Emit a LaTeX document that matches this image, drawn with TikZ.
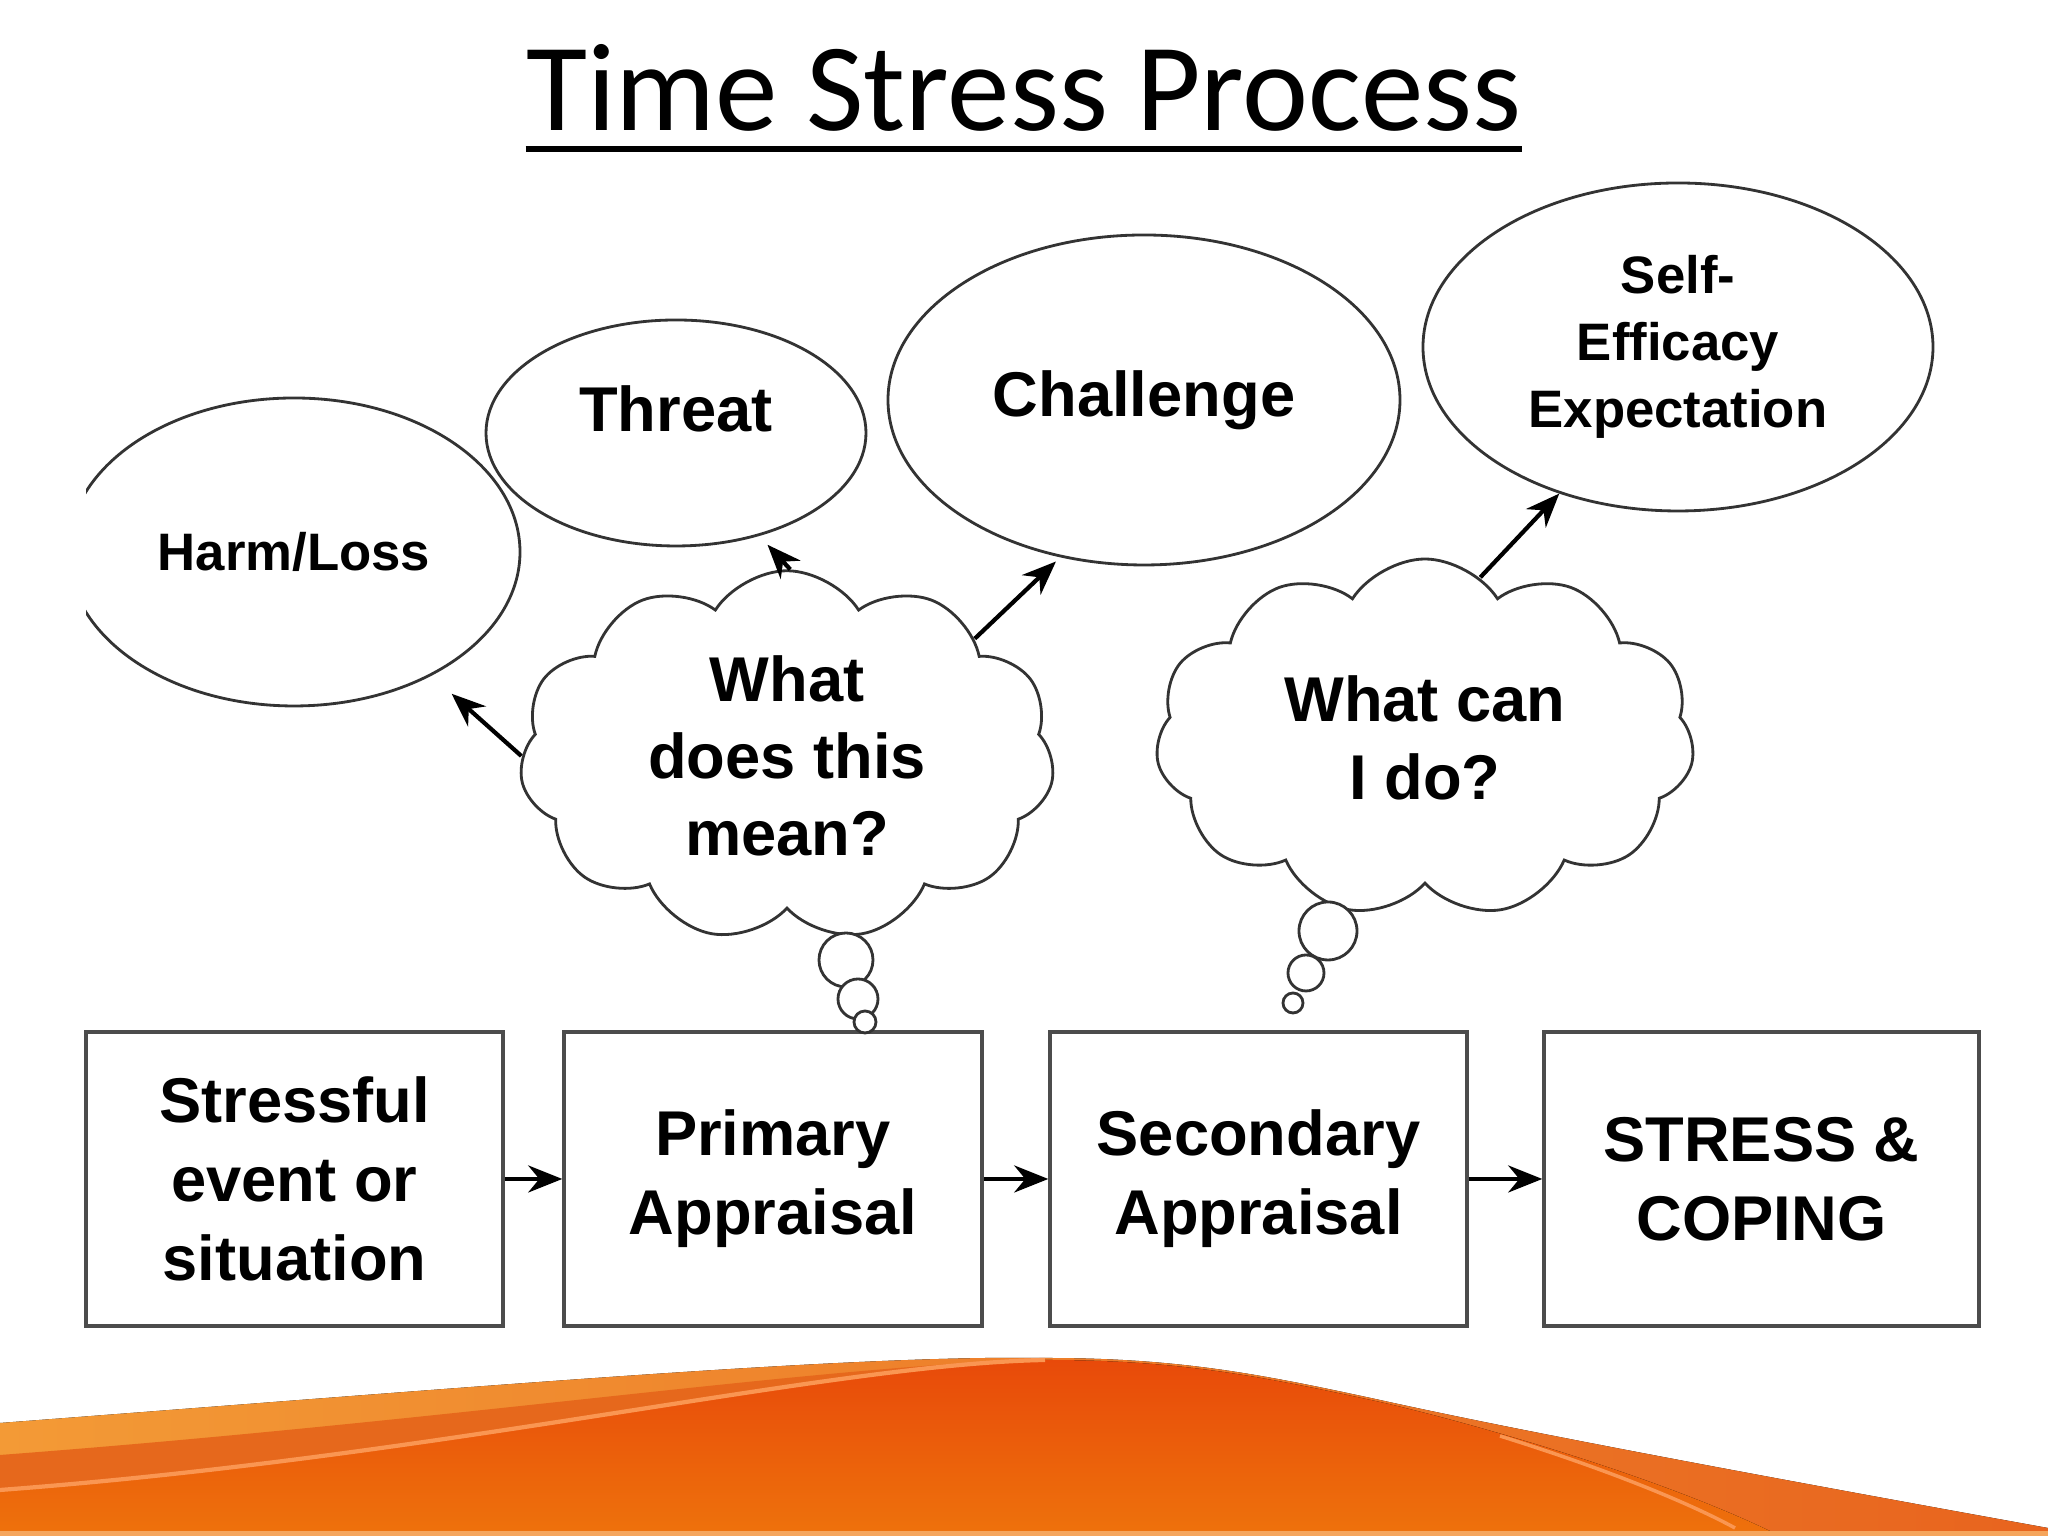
\documentclass[tikz,border=0pt]{standalone}
\usepackage{fontspec}
\setmainfont{Liberation Sans}
\newfontfamily\titlefont{Carlito}
\usetikzlibrary{shapes.geometric,shapes.symbols,arrows.meta}

\definecolor{ondaclara}{RGB}{243,154,54}
\definecolor{ondaoscura}{RGB}{232,100,30}
\definecolor{ondamedia}{RGB}{230,104,28}
\definecolor{ondaroja}{RGB}{232,74,10}
\definecolor{ondabase}{RGB}{238,114,12}
\definecolor{ondabrillo}{RGB}{250,150,82}
\definecolor{ondaborde}{RGB}{245,165,92}

\begin{document}
\begin{tikzpicture}[
  caja/.style={rectangle, draw=black!70, line width=1pt, minimum height=2.94cm, minimum width=4.17cm, align=center, font=\fontsize{18}{22.5}\selectfont\bfseries},
  elipse/.style={ellipse, draw=black!80, line width=0.8pt, inner sep=0pt, align=center},
  nube/.style={cloud, cloud puffs=11, cloud puff arc=115, cloud ignores aspect, draw=black!80, line width=0.8pt, align=center, font=\fontsize{18}{22}\selectfont\bfseries},
  burbuja/.style={circle, draw=black!80, line width=0.8pt, fill=white, inner sep=0pt},
  flecha/.style={-{Stealth[length=3.4mm,width=2.7mm]}, line width=1.2pt}
]
\useasboundingbox[fill=white] (0,0) rectangle (20.48,15.36);

% Titulo
\node[inner sep=0pt, anchor=base, font=\titlefont\fontsize{35.6}{40}\selectfont] (title) at (10.24,14.05) {Time Stress Process};
\draw[line width=1.6pt] ([yshift=-0.18cm]title.base west) -- ([yshift=-0.18cm]title.base east);

% Cajas
\node[caja] at (2.945,3.57) (event) {Stressful\\event or\\situation};
\node[caja, minimum width=4.18cm] at (7.73,3.57) (primary) {Primary\\Appraisal};
\node[caja] at (12.585,3.57) (secondary) {Secondary\\Appraisal};
\node[caja, minimum width=4.35cm] at (17.615,3.57) (coping) {STRESS \&\\COPING};

% Elipses
\begin{scope}
\clip (0.86,0) rectangle (20.48,15.36);
\node[elipse, minimum width=4.52cm, minimum height=3.08cm, font=\fontsize{15}{19}\selectfont\bfseries] at (2.94,9.84) (harm) {Harm/Loss};
\end{scope}
\node[elipse, minimum width=3.80cm, minimum height=2.26cm, text depth=0.48cm, font=\fontsize{18}{22}\selectfont\bfseries] at (6.76,11.03) (threat) {Threat};
\node[elipse, minimum width=5.12cm, minimum height=3.30cm, font=\fontsize{18}{22}\selectfont\bfseries] at (11.44,11.36) (challenge) {Challenge};
\node[elipse, minimum width=5.10cm, minimum height=3.28cm, font=\fontsize{15}{19}\selectfont\bfseries] at (16.78,11.89) (selfeff) {Self-\\Efficacy\\Expectation};

% Nubes
\node[nube, minimum width=5.35cm, minimum height=3.63cm] at (7.87,7.80) (think1) {What\\does this\\mean?};
\node[nube, minimum width=5.39cm, minimum height=3.58cm] at (14.25,7.98) (think2) {What can\\I do?};

% Burbujas
\node[burbuja, minimum size=0.54cm] at (8.46,5.76) (think1a) {};
\node[burbuja, minimum size=0.40cm] at (8.58,5.37) (think1b) {};
\node[burbuja, minimum size=0.22cm] at (8.65,5.14) (think1c) {};
\node[burbuja, minimum size=0.58cm] at (13.28,6.05) (think2a) {};
\node[burbuja, minimum size=0.36cm] at (13.06,5.63) (think2b) {};
\node[burbuja, minimum size=0.20cm] at (12.93,5.33) (think2c) {};

% Flechas
\draw[flecha] (event) -- (primary);
\draw[flecha] (primary) -- (secondary);
\draw[flecha] (secondary) -- (coping);
\draw[flecha, shorten >=0.27cm] (think1.180) -- (harm.-42);
\draw[flecha, shorten >=0.12cm] (think1.89) -- (threat.-51);
\draw[flecha, shorten >=0.06cm] (think1.32) -- (challenge.-118);
\draw[flecha] (think2.71) -- (selfeff.-129);

% Onda naranja
\fill[left color=ondaclara, right color=ondaoscura] (0,1.13) .. controls (5,1.51) and (8.5,1.81) .. (10.45,1.78)
  .. controls (11.8,1.78) and (12.6,1.62) .. (13.8,1.36) .. controls (15.2,1.05) and (17.5,0.62) .. (20.48,0.08)
  -- (20.48,0) -- (0,0) -- cycle;
\fill[ondamedia] (0,0.81) .. controls (4.5,1.15) and (8,1.68) .. (10.3,1.76) -- (10.3,0) -- (0,0) -- cycle;
\fill[top color=ondaroja, bottom color=ondabase] (0,0.46) .. controls (4.5,0.8) and (8.3,1.72) .. (10.45,1.76)
  .. controls (11.8,1.76) and (12.6,1.6) .. (13.8,1.34) .. controls (14.6,1.16) and (16.6,0.6) .. (17.8,0) -- (0,0) -- cycle;
\draw[ondabrillo, line width=1.2pt] (0,0.46) .. controls (4.5,0.8) and (8.3,1.72) .. (10.45,1.76);
\draw[ondabrillo, line width=1pt] (15.0,1.0) .. controls (15.9,0.72) and (16.8,0.38) .. (17.35,0.08);
\fill[ondaborde] (0,0) rectangle (20.48,0.05);

\end{tikzpicture}
\end{document}
